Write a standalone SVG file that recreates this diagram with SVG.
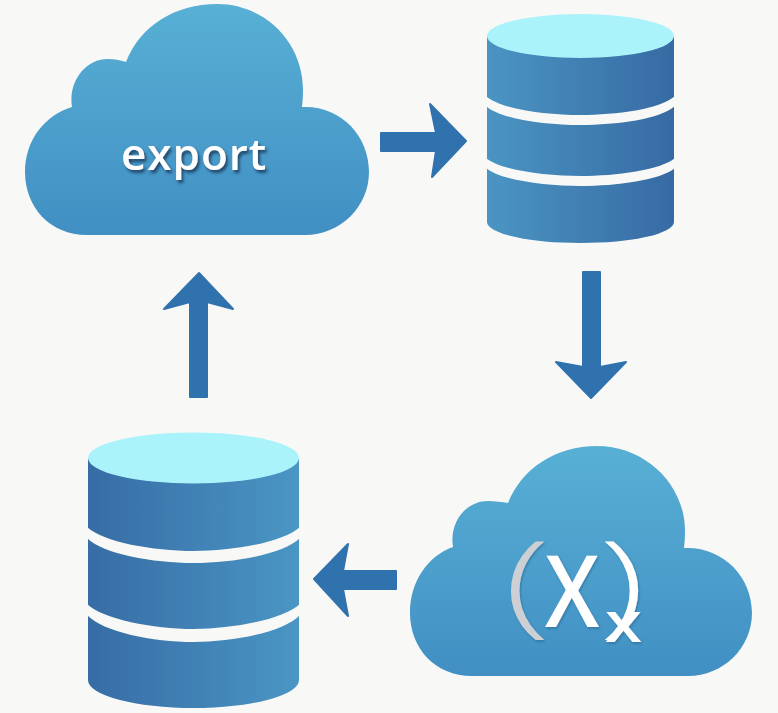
<svg xmlns="http://www.w3.org/2000/svg" width="778" height="713" viewBox="0 0 778 713">
<style>
.cloud{fill:url(#cloudGrad)}
.top{fill:#aaf3fb}
.gap{fill:#f8f8f6}
.arrow{fill:#2f72ae;stroke:#2f72ae;stroke-width:2;stroke-linejoin:round}
.lbl{font-family:"Open Sans","Noto Sans",sans-serif;fill:#fff}
</style>
<defs>
<linearGradient id="cloudGrad" x1="0" y1="0" x2="0" y2="1"><stop offset="0" stop-color="#58b0d5"/><stop offset="1" stop-color="#418fc3"/></linearGradient>
<linearGradient id="cylR" x1="0" y1="0" x2="1" y2="0"><stop offset="0" stop-color="#4a95c3"/><stop offset="1" stop-color="#376aa3"/></linearGradient>
<linearGradient id="cylL" x1="0" y1="0" x2="1" y2="0"><stop offset="0" stop-color="#376ca5"/><stop offset="1" stop-color="#4a96c4"/></linearGradient>
<filter id="shadow" x="-20%" y="-30%" width="140%" height="170%"><feDropShadow dx="2" dy="3" stdDeviation="1.5" flood-color="#123a5c" flood-opacity=".85"/></filter>
<filter id="soft" x="-20%" y="-20%" width="140%" height="140%"><feDropShadow dx="1" dy="1.5" stdDeviation="1.2" flood-color="#1c4f78" flood-opacity=".45"/></filter>
</defs>
<rect width="778" height="713" fill="#f8f8f6"/>
<g id="connectors">
<path class="arrow" d="M381 133H436L430 104L466 141L432 177L436 151H381Z"/>
<path class="arrow" d="M583 272H600V367L626 362L591 398L556 362L583 367Z"/>
<path class="arrow" d="M396 571V589H343L348 616L314 579L348 544L343 571Z"/>
<path class="arrow" d="M190 397H207V302L233 309L199 273L164 309L190 302Z"/>
</g>
<g id="cloud-export">
<path class="cloud" d="M87 235C50 235 25 207 25 172C25 140 45 115 72 107C68 82 85 59 108 59C114 59 120 60 126 62C140 26 175 4 217 4C265 4 303 42 303 90Q303 100 302 107C340 105 369 135 369 172C369 207 340 235 305 235Z"/>
<text class="lbl" x="121" y="170" font-size="44" font-weight="600" letter-spacing="1" filter="url(#shadow)">export</text>
</g>
<g id="db-top">
<path fill="url(#cylR)" d="M487 36V222A93.5 21 0 0 0 674 222V36Z"/>
<ellipse class="top" cx="580.5" cy="36" rx="93.5" ry="22"/>
<path class="gap" d="M486 96C500 109 545 115 580.500 115S661 109 675 96V106C661 119 616 125 580.500 125S500 119 486 106Z"/>
<path class="gap" d="M486 158C500 170 545 176 580.500 176S661 170 675 158V168C661 180 616 186 580.500 186S500 180 486 168Z"/>
</g>
<g id="cloud-x">
<path class="cloud" d="M472 676C435 676 410 648 410 613C410 581 428 556 453 547C449 522 466 501 488 501C495 501 502 502 508 503C522 468 556 446 597 446C645 446 685 484 685 531Q685 540 684 548C722 546 752 576 752 613C752 648 723 676 688 676Z"/>
<g filter="url(#soft)">
<text class="lbl" transform="translate(504 622) scale(1.5 1)" font-size="113" font-weight="300" style="fill:#ccd0d4">(</text>
<text class="lbl" transform="translate(545 627) scale(.88 1)" font-size="99" font-weight="600">X</text>
<text class="lbl" transform="translate(599 622) scale(1.5 1)" font-size="113" font-weight="300">)</text>
<text class="lbl" transform="translate(605 642) scale(1.2 1)" font-size="56" font-weight="600">x</text>
</g>
</g>
<g id="db-bottom">
<path fill="url(#cylL)" d="M88 458V680A105.5 28 0 0 0 299 680V458Z"/>
<ellipse class="top" cx="193.500" cy="458" rx="105.500" ry="25.500"/>
<path class="gap" d="M87 527C103 542 153 551 193.500 551S284 542 300 527V538C284 554 234 563 193.500 563S103 554 87 538Z"/>
<path class="gap" d="M87 604C103 619 153 629 193.500 629S284 619 300 604V615C284 632 234 642 193.500 642S103 632 87 615Z"/>
</g>
</svg>
